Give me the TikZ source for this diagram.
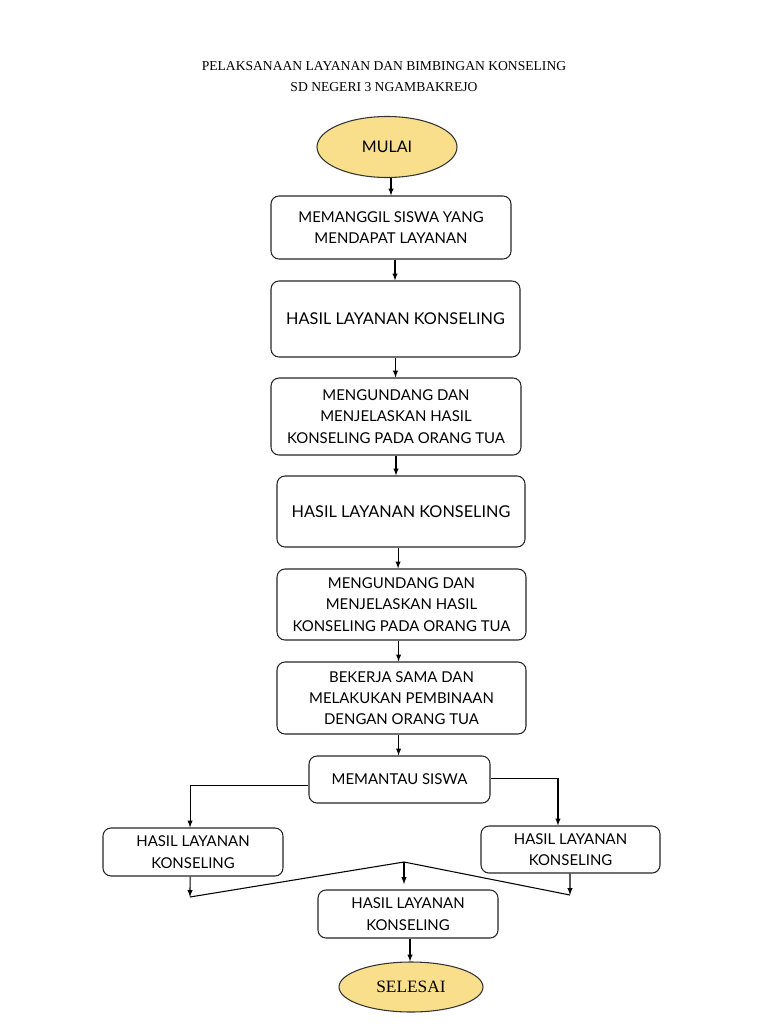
\documentclass[tikz,border=0pt]{standalone}
\usepackage{fontspec}
\setmainfont{Liberation Serif}
\newfontfamily\lato{Lato}
\definecolor{kuning}{HTML}{F9DF8C}
\usepackage{tikz}
\usetikzlibrary{calc}
\usetikzlibrary{positioning}
\usetikzlibrary{shapes.geometric}
\usetikzlibrary{arrows}

\tikzset{
  kotak/.style={rectangle, rounded corners=6pt, draw=black!85, line width=0.8pt, fill=white, align=center, font=\lato\fontsize{11.2}{16}\selectfont},
  besar/.style={kotak, font=\lato\fontsize{12.2}{15}\selectfont},
  oval/.style={ellipse, draw=black!80, line width=0.8pt, fill=kuning, align=center},
  panah/.style={-latex, line width=0.8pt}
}

\begin{document}
\begin{tikzpicture}[x=0.75pt, y=-0.75pt]
      \useasboundingbox (0,0) rectangle (768,1024);
      \node[align=center, font=\fontsize{10.2}{15.75}\selectfont] (x1) at (384,77) {PELAKSANAAN LAYANAN DAN BIMBINGAN KONSELING\\SD NEGERI 3 NGAMBAKREJO};
      \node[oval, minimum width=105pt, minimum height=45.75pt, font=\lato\fontsize{12}{15}\selectfont] (x2) at (387,147) {MULAI};
      \node[kotak, minimum width=180pt, minimum height=47.25pt] (x3) at (391,227.5) {MEMANGGIL SISWA YANG\\MENDAPAT LAYANAN};
      \node[besar, minimum width=186.75pt, minimum height=57pt] (x4) at (395.5,319) {HASIL LAYANAN KONSELING};
      \node[kotak, minimum width=187.5pt, minimum height=57.75pt] (x5) at (396,416.5) {MENGUNDANG DAN\\MENJELASKAN HASIL\\KONSELING PADA ORANG TUA};
      \node[besar, minimum width=186pt, minimum height=53.25pt] (x6) at (401,511.5) {HASIL LAYANAN KONSELING};
      \node[kotak, minimum width=186.75pt, minimum height=53.25pt] (x7) at (401.5,604.5) {MENGUNDANG DAN\\MENJELASKAN HASIL\\KONSELING PADA ORANG TUA};
      \node[kotak, minimum width=186.75pt, minimum height=54pt] (x8) at (401.5,698) {BEKERJA SAMA DAN\\MELAKUKAN PEMBINAAN\\DENGAN ORANG TUA};
      \node[kotak, minimum width=135.75pt, minimum height=35.25pt] (x9) at (399.5,779.5) {MEMANTAU SISWA};
      \node[kotak, minimum width=135pt, minimum height=36pt] (x10) at (193,852) {HASIL LAYANAN\\KONSELING};
      \node[kotak, minimum width=134.25pt, minimum height=35.25pt] (x11) at (570.5,849.5) {HASIL LAYANAN\\KONSELING};
      \node[kotak, minimum width=135pt, minimum height=36pt] (x12) at (408,914) {HASIL LAYANAN\\KONSELING};
      \node[oval, minimum width=108pt, minimum height=37.5pt, font=\fontsize{13}{15}\selectfont] (x13) at (411,987) {SELESAI};
      \coordinate (v1) at (190,897);
      \coordinate (v2) at (570,895);
      \coordinate (ap) at (404,862);
      \draw[panah] (x3.north |- x2.south) -- (x3.north);
      \draw[panah] ([xshift=3pt]x3.south) -- ([xshift=3pt]x3.south |- x4.north);
      \draw[panah] (x4.south) -- (x4.south |- x5.north);
      \draw[panah] (x5.south) -- (x5.south |- x6.north);
      \draw[panah] ([xshift=-2.2pt]x6.south) -- ([xshift=-2.2pt]x6.south |- x7.north);
      \draw[panah] ([xshift=-2.2pt]x7.south) -- ([xshift=-2.2pt]x7.south |- x8.north);
      \draw[panah] ([xshift=-2.2pt]x8.south) -- ([xshift=-2.2pt]x8.south |- x9.north);
      \draw[panah] ([yshift=-4.5pt]x9.west) -| ([xshift=-2.2pt]x10.north);
      \draw[panah] ([yshift=1pt]x9.east) -| ([xshift=-9.4pt]x11.north);
      \draw[panah] ([xshift=-2.2pt]x10.south) -- (v1);
      \draw[panah] ([xshift=-0.4pt]x11.south) -- (v2);
      \draw[line width=0.8pt] (v1) -- (ap) -- (v2);
      \draw[panah] (ap) -- ([yshift=4pt]ap |- x12.north);
      \draw[panah] ([xshift=1.5pt]x12.south) -- ([xshift=1.5pt]x12.south |- x13.north);
    \end{tikzpicture}
\end{document}
